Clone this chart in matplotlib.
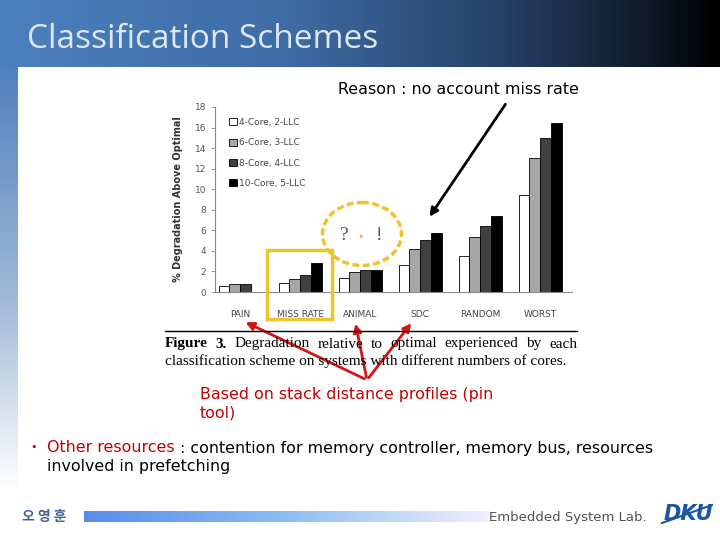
import matplotlib
matplotlib.use("Agg")
import matplotlib.pyplot as plt
import numpy as np
from matplotlib.patches import Rectangle, Ellipse, FancyArrowPatch

# chart data
schemes = ["PAIN", "MISS RATE", "ANIMAL", "SDC", "RANDOM", "WORST"]
configs = ["4-Core, 2-LLC", "6-Core, 3-LLC", "8-Core, 4-LLC", "10-Core, 5-LLC"]
core4 = [0.55, 0.87, 1.36, 2.65, 3.52, 9.44]
core6 = [0.78, 1.29, 1.94, 4.17, 5.33, 13.0]
core8 = [0.78, 1.62, 2.17, 5.10, 6.40, 14.96]
core10 = [0.0, 2.81, 2.17, 5.75, 7.40, 16.45]
yticks = [0, 2, 4, 6, 8, 10, 12, 14, 16, 18]

caption1 = "Figure 3. Degradation relative to optimal experienced by each"
caption2 = "classification scheme on systems with different numbers of cores."

series = [core4, core6, core8, core10]
bar_colors = ["#ffffff", "#a6a6a6", "#404040", "#000000"]

W, H = 720, 540
fig = plt.figure(figsize=(7.2, 5.4), dpi=100)
fig.patch.set_facecolor("white")

# background layer in pixel coordinates
bg = fig.add_axes([0, 0, 1, 1], zorder=0)
bg.set_xlim(0, W)
bg.set_ylim(H, 0)
bg.axis("off")

def grad(stops, n=256):
    pos = np.array([s[0] for s in stops])
    cols = np.array([s[1] for s in stops]) / 255.0
    t = np.linspace(0, 1, n)
    return np.stack([np.interp(t, pos, cols[:, k]) for k in range(3)], axis=-1)

title_band = grad([(0, (76, 128, 190)), (0.4, (62, 108, 165)),
                   (0.7, (38, 64, 102)), (0.9, (15, 25, 40)), (1, (0, 0, 0))])
bg.imshow(title_band[np.newaxis, :, :], extent=(0, W, 67, 0), aspect="auto", zorder=0)

side = grad([(0, (80, 128, 190)), (0.55, (160, 185, 215)), (1, (255, 255, 255))])
bg.imshow(side[:, np.newaxis, :], extent=(0, 18, 490, 67), aspect="auto", zorder=0)

foot = grad([(0, (88, 140, 232)), (0.5, (140, 190, 242)), (1, (242, 240, 250))])
bg.imshow(foot[np.newaxis, :, :], extent=(84, 490, 522, 511), aspect="auto", zorder=0)

# bar chart
ax = fig.add_axes([215 / W, 1 - 292 / H, 357 / W, 185 / H], zorder=1)
x = np.arange(len(schemes))
bw = 0.18
for i, (vals, col, lab) in enumerate(zip(series, bar_colors, configs)):
    ax.bar(x + (i - 1.5) * bw, vals, width=bw, color=col, edgecolor="black",
           linewidth=0.6, label=lab)
ax.set_xlim(-0.42, 5.53)
ax.set_ylim(0, 18)
ax.set_yticks(yticks)
ax.set_xticks(x)
ax.set_xticklabels(schemes, fontsize=6.5, color="#444444")
ax.tick_params(axis="x", length=0, pad=13)
ax.tick_params(axis="y", labelsize=6.5, labelcolor="#555555", length=3,
               color="#888888", width=0.6)
for s in ["top", "right"]:
    ax.spines[s].set_visible(False)
ax.spines["left"].set_color("#888888")
ax.spines["bottom"].set_color("#888888")
ax.set_ylabel("% Degradation Above Optimal", fontsize=7, fontweight="bold",
              color="#333333", labelpad=8)
leg = ax.legend(loc="upper left", bbox_to_anchor=(0.03, 0.96), frameon=False,
                fontsize=6.5, handlelength=0.8, handleheight=0.8,
                handletextpad=0.3, labelspacing=1.25, borderaxespad=0)
for t in leg.get_texts():
    t.set_color("#444444")

# foreground layer: texts, arrows and marks
fg = fig.add_axes([0, 0, 1, 1], zorder=3)
fg.set_xlim(0, W)
fg.set_ylim(H, 0)
fg.axis("off")
fg.patch.set_alpha(0)

fs = 11.4
fg.text(27, 40, "Classification Schemes", fontsize=24, color="#dce8f6",
        family="Open Sans", va="center", ha="left")
fg.text(338, 89, "Reason : no account miss rate", fontsize=fs, color="black",
        va="center", ha="left")

# caption of the embedded figure, first line justified
fg.plot([165, 577], [331, 331], color="black", lw=1)
renderer = fig.canvas.get_renderer()
words = caption1.split()
wtexts = []
for k, w in enumerate(words):
    wtexts.append(fg.text(0, 344, w, family="Liberation Serif", fontsize=11,
                          fontweight="bold" if k < 2 else "normal",
                          va="center", ha="left"))
widths = [t.get_window_extent(renderer).width for t in wtexts]
gap = (577 - 165 - sum(widths)) / (len(words) - 1)
xpos = 165
for t, wd in zip(wtexts, widths):
    t.set_x(xpos)
    xpos += wd + gap
fg.text(165, 361, caption2, family="Liberation Serif", fontsize=11,
        va="center", ha="left")

# highlight marks
fg.add_patch(Rectangle((267, 250), 65, 69, fill=False, edgecolor="#f2c12e", lw=2.5))
fg.add_patch(Ellipse((362, 234), 79, 63, fill=False, edgecolor="#f2c12e", lw=2.5,
                     linestyle=(0, (2, 1))))
fg.text(344, 236, "?", family="Liberation Serif", fontsize=14, color="#555555",
        va="center", ha="center")
fg.text(379, 236, "!", family="Liberation Serif", fontsize=14, color="#555555",
        va="center", ha="center")
fg.text(362, 236, "\u25b8", fontsize=5, color="#f0a030", va="center", ha="center")

fg.add_patch(FancyArrowPatch((507, 102), (428, 219), arrowstyle="-|>",
                             mutation_scale=12, color="black", lw=2))
for tip in [(243, 321), (355, 321), (413, 321)]:
    fg.add_patch(FancyArrowPatch((367, 380), tip, arrowstyle="-|>",
                                 mutation_scale=12, color="#d41515", lw=2))

fg.text(200, 395, "Based on stack distance profiles (pin", fontsize=fs,
        color="#c00000", va="center", ha="left")
fg.text(200, 413, "tool)", fontsize=fs, color="#c00000", va="center", ha="left")

fg.text(30, 447, "\u2022", fontsize=8, color="#c00000", va="center", ha="left")
b1 = fg.text(47, 448, "Other resources", fontsize=fs, color="#c00000",
             va="center", ha="left")
fg.annotate(" : contention for memory controller, memory bus, resources", xy=(1, 0),
            xycoords=b1, va="bottom", ha="left", fontsize=fs, color="black")
fg.text(47, 466, "involved in prefetching", fontsize=fs, color="black",
        va="center", ha="left")

# footer
fg.text(22, 517, "오 영 훈", family=["Noto Sans CJK KR", "DejaVu Sans"],
        fontsize=10, fontweight="bold", color="#3f6396", va="center", ha="left")
fg.text(489, 517, "Embedded System Lab.", fontsize=9.5, color="#505050",
        va="center", ha="left")
fg.plot([662, 712], [523, 505], color="#1c55a8", lw=1.5)
fg.text(688, 514, "DKU", fontsize=15, fontweight="bold", style="italic",
        color="#1c55a8", va="center", ha="center")

fig.savefig("out.png", dpi=100)
